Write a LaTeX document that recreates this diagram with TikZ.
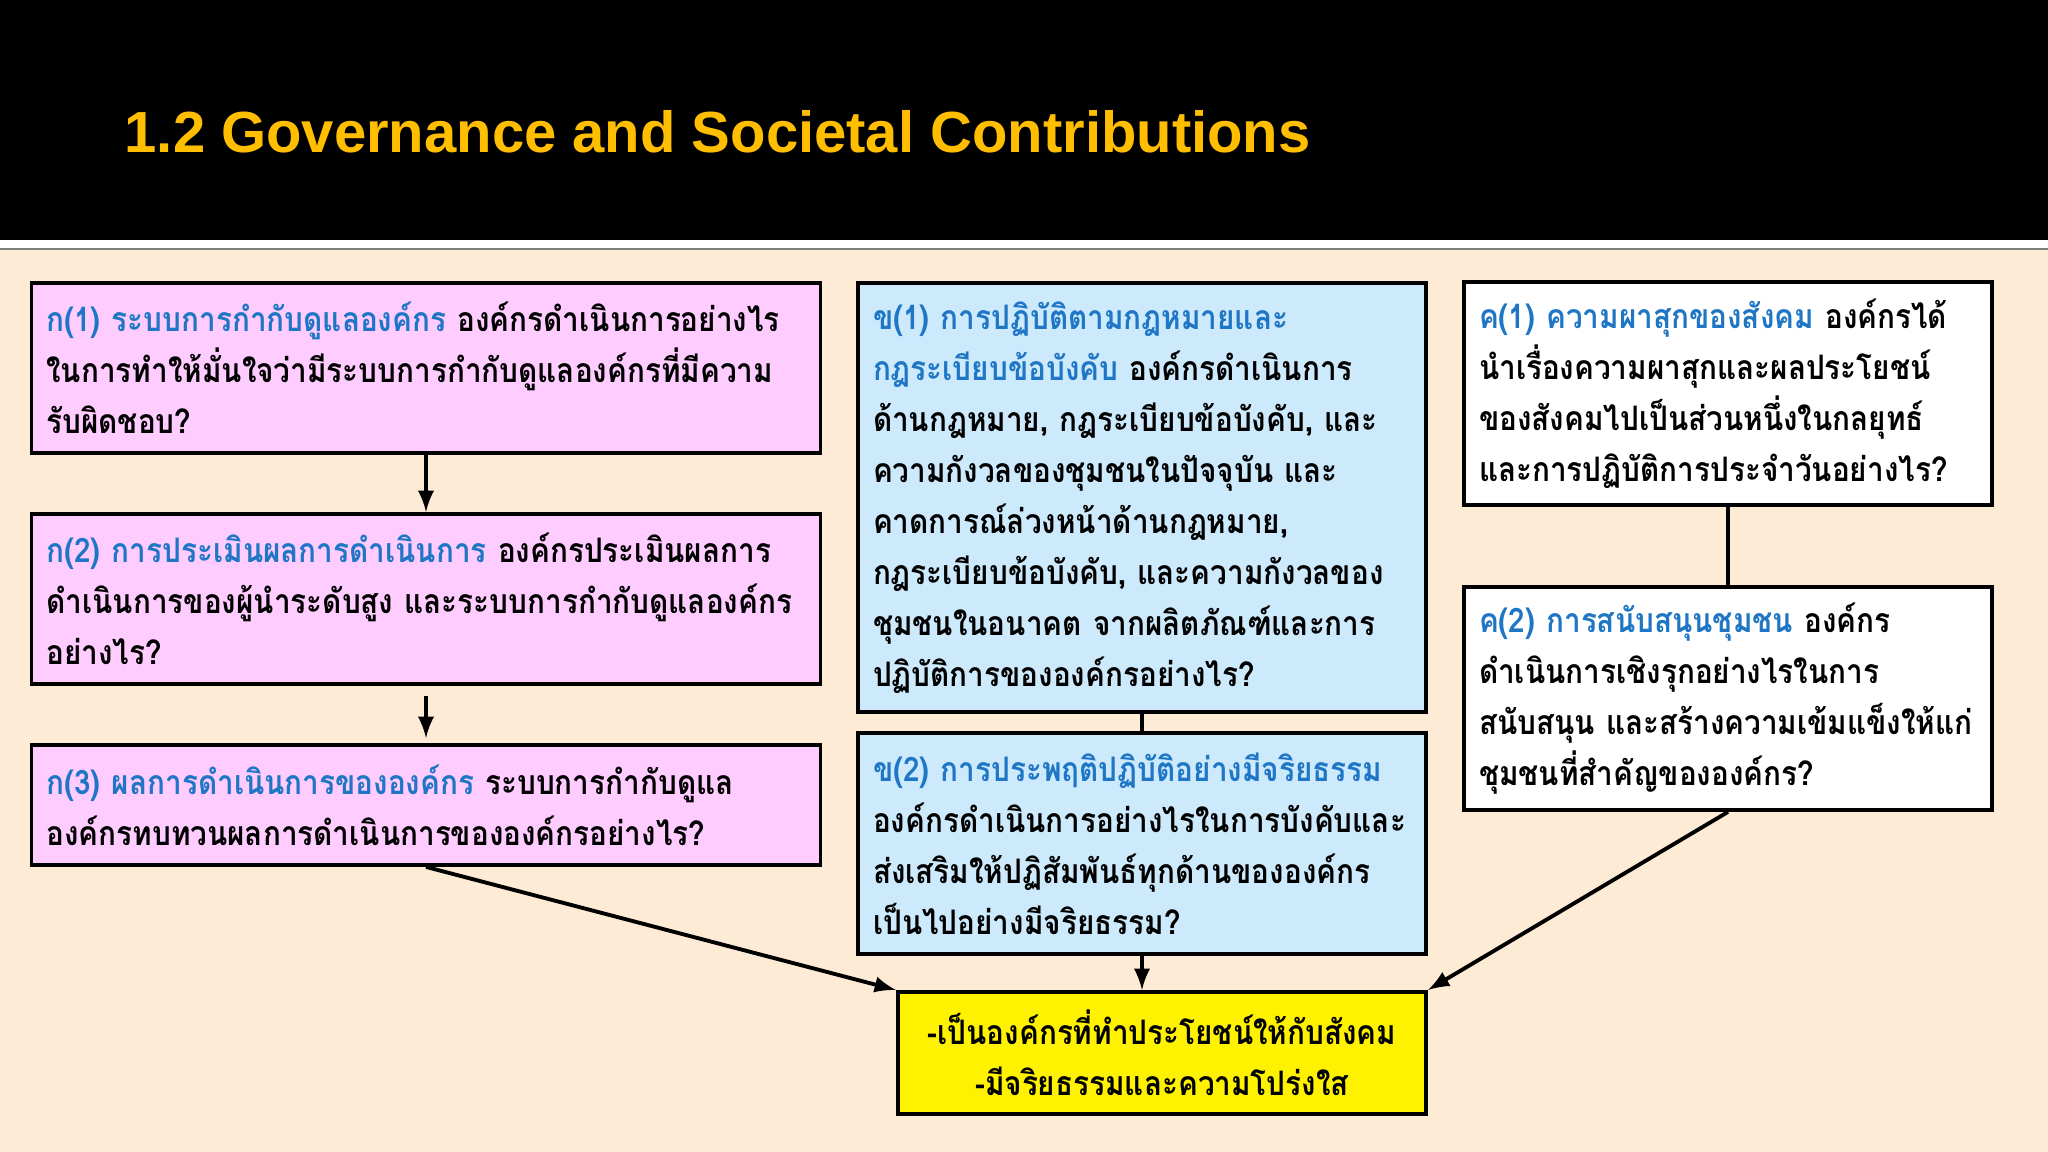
\documentclass[tikz,border=0pt]{standalone}
\usepackage{fontspec}
\setmainfont{DejaVu Sans}
\newfontfamily\thaifont[Script=Thai, FakeStretch=0.88]{Loma}
\newfontfamily\titlefont{Liberation Sans}
\usetikzlibrary{arrows}

\definecolor{slidebg}{RGB}{253,235,213}
\definecolor{pinkfill}{RGB}{255,204,255}
\definecolor{bluefill}{RGB}{204,234,252}
\definecolor{hdblue}{RGB}{30,118,196}
\definecolor{titlegold}{RGB}{255,190,0}
\newcommand{\hd}[1]{\textcolor{hdblue}{#1}}

\begin{document}
\begin{tikzpicture}[
    box/.style={rectangle, draw=black, line width=1.1pt, inner xsep=0.15cm, inner ysep=0pt, align=left,
        font=\thaifont\bfseries\fontsize{9.6}{14.5}\selectfont},
    abox/.style={box, fill=pinkfill, text width=7.59cm},
    bbox/.style={box, fill=bluefill, text width=5.38cm},
    cbox/.style={box, fill=white, text width=4.98cm, minimum height=2.23cm},
    goalbox/.style={box, fill=yellow, align=center, text width=4.98cm, minimum height=1.22cm},
    link/.style={draw, line width=1.1pt},
    arrow/.style={link, -latex}
]
\useasboundingbox (0,0) rectangle (20.48,11.52);
\fill[slidebg] (0,0) rectangle (20.48,11.52);

% Header
\fill[black] (0,9.12) rectangle (20.48,11.52);
\fill[white] (0,9.04) rectangle (20.48,9.12);
\fill[gray] (0,9.02) rectangle (20.48,9.04);
\node[anchor=west, inner sep=0pt, text=titlegold, font=\titlefont\bfseries\fontsize{16.5}{20}\selectfont] (title) at (1.24,10.20)
    {1.2 Governance and Societal Contributions};

% Define boxes
\node[abox, minimum height=1.70cm] (a1) at (4.26,7.84)
    {\hd{ก(1) ระบบการกำกับดูแลองค์กร} องค์กรดำเนินการอย่างไร\\
     ในการทำให้มั่นใจว่ามีระบบการกำกับดูแลองค์กรที่มีความ\\
     รับผิดชอบ?};
\node[abox, minimum height=1.70cm] (a2) at (4.26,5.53)
    {\hd{ก(2) การประเมินผลการดำเนินการ} องค์กรประเมินผลการ\\
     ดำเนินการของผู้นำระดับสูง และระบบการกำกับดูแลองค์กร\\
     อย่างไร?};
\node[abox, minimum height=1.20cm] (a3) at (4.26,3.47)
    {\hd{ก(3) ผลการดำเนินการขององค์กร} ระบบการกำกับดูแล\\
     องค์กรทบทวนผลการดำเนินการขององค์กรอย่างไร?};

\node[bbox, minimum height=4.29cm] (b1) at (11.42,6.545)
    {\hd{ข(1) การปฏิบัติตามกฎหมายและ}\\
     \hd{กฎระเบียบข้อบังคับ} องค์กรดำเนินการ\\
     ด้านกฎหมาย, กฎระเบียบข้อบังคับ, และ\\
     ความกังวลของชุมชนในปัจจุบัน และ\\
     คาดการณ์ล่วงหน้าด้านกฎหมาย,\\
     กฎระเบียบข้อบังคับ, และความกังวลของ\\
     ชุมชนในอนาคต จากผลิตภัณฑ์และการ\\
     ปฏิบัติการขององค์กรอย่างไร?};
\node[bbox, minimum height=2.21cm] (b2) at (11.42,3.085)
    {\hd{ข(2) การประพฤติปฏิบัติอย่างมีจริยธรรม}\\
     องค์กรดำเนินการอย่างไรในการบังคับและ\\
     ส่งเสริมให้ปฏิสัมพันธ์ทุกด้านขององค์กร\\
     เป็นไปอย่างมีจริยธรรม?};

\node[cbox] (c1) at (17.28,7.585)
    {\hd{ค(1) ความผาสุกของสังคม} องค์กรได้\\
     นำเรื่องความผาสุกและผลประโยชน์\\
     ของสังคมไปเป็นส่วนหนึ่งในกลยุทธ์\\
     และการปฏิบัติการประจำวันอย่างไร?};
\node[cbox] (c2) at (17.28,4.535)
    {\hd{ค(2) การสนับสนุนชุมชน} องค์กร\\
     ดำเนินการเชิงรุกอย่างไรในการ\\
     สนับสนุน และสร้างความเข้มแข็งให้แก่\\
     ชุมชนที่สำคัญขององค์กร?};

\node[goalbox] (goal) at (11.62,0.99)
    {\mbox{-เป็นองค์กรที่ทำประโยชน์ให้กับสังคม}\\
     \mbox{-มีจริยธรรมและความโปร่งใส}};

% Define arrows
\path[arrow] (a1) -- (a2);
\path[arrow, shorten <=0.1cm, shorten >=0.05cm] (a2) -- (a3);
\path[arrow] (a3.south) -- (goal.north west);
\path[link] (b1) -- (b2);
\path[arrow] (b2.south) -- (b2.south |- goal.north);
\path[link] (c1) -- (c2);
\path[arrow] (c2.south) -- (goal.north east);

\end{tikzpicture}
\end{document}
